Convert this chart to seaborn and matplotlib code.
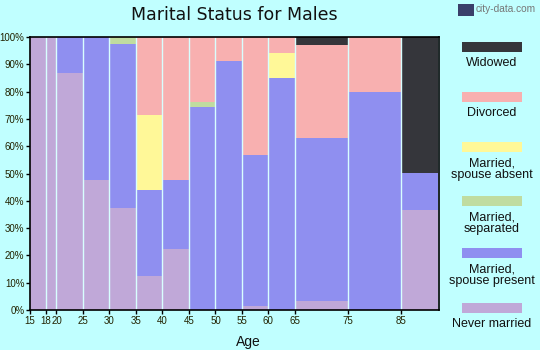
import matplotlib
matplotlib.use("Agg")
import matplotlib.pyplot as plt
from matplotlib.patches import Rectangle
import numpy as np
import pandas as pd
import seaborn as sns

# Age bracket edges (years)
age_edges = [15, 18, 20, 25, 30, 35, 40, 45, 50, 55, 60, 65, 75, 85, 92]
tick_ages = [15, 18, 20, 25, 30, 35, 40, 45, 50, 55, 60, 65, 75, 85]

# Share of males in each age bracket by marital status (%)
never_married   = [100, 100, 86.9, 47.6, 37.5, 12.5, 22.3, 0.0, 0.0, 1.6, 0.0, 3.3, 0.0, 36.6]
spouse_present  = [0, 0, 13.1, 52.4, 60.0, 31.5, 25.3, 74.4, 91.2, 55.2, 85.0, 59.8, 79.9, 13.7]
separated       = [0, 0, 0, 0, 2.5, 0, 0, 1.9, 0, 0, 0, 0, 0, 0]
spouse_absent   = [0, 0, 0, 0, 0, 27.4, 0, 0, 0, 0, 9.1, 0, 0, 0]
divorced        = [0, 0, 0, 0, 0, 28.6, 52.4, 23.7, 8.8, 43.2, 5.9, 34.0, 20.1, 0]
widowed         = [0, 0, 0, 0, 0, 0, 0, 0, 0, 0, 0, 2.9, 0, 49.7]

statuses = ["Never married", "Married,\nspouse present", "Married,\nseparated",
            "Married,\nspouse absent", "Divorced", "Widowed"]
colors = ["#c0a8d8", "#8f8ff0", "#c0dca0", "#fff898", "#f8b0b0", "#35363b"]
bg = "#c0ffff"

series = [never_married, spouse_present, separated, spouse_absent, divorced, widowed]
mids = [(a + b) / 2 for a, b in zip(age_edges[:-1], age_edges[1:])]
rows = []
for name, vals in zip(statuses, series):
    for m, v in zip(mids, vals):
        rows.append({"age": m, "status": name, "share": v})
df = pd.DataFrame(rows)

sns.set_style("white")
plt.rcParams["font.family"] = ["Liberation Sans", "DejaVu Sans"]

fig = plt.figure(figsize=(5.4, 3.5), dpi=100, facecolor=bg)
ax = fig.add_axes([30 / 540, 1 - 310 / 350, 409 / 540, 273 / 350])
ax.set_facecolor(bg)

sns.histplot(data=df, x="age", weights="share", hue="status",
             hue_order=statuses[::-1], palette=dict(zip(statuses, colors)),
             bins=age_edges, multiple="stack", stat="count",
             element="bars", alpha=1, linewidth=0,
             legend=False, ax=ax)

# thin light separators between age brackets
ax.vlines(age_edges[1:-1], 0, 100, color="#d8ffff", linewidth=1.0, zorder=5)

ax.set_xlim(15, 92.2)
ax.set_ylim(0, 100)
ax.set_yticks(range(0, 101, 10))
ax.set_yticklabels([f"{v}%" for v in range(0, 101, 10)])
ax.set_xticks(tick_ages)
ax.set_xticklabels([str(a) for a in tick_ages])
for lab in ax.get_xticklabels() + ax.get_yticklabels():
    lab.set_fontsize(7)
    lab.set_color("#222200")
ax.tick_params(axis="both", length=3, width=1, color="black", pad=1,
               direction="out", bottom=True, left=True)
ax.set_ylabel("")
ax.set_xlabel("")
for s in ax.spines.values():
    s.set_visible(True)
    s.set_color("black")
    s.set_linewidth(1.2)
    s.set_zorder(6)

fig.text(248 / 540, 1 - 342 / 350, "Age", ha="center", va="center",
         fontsize=10, color="#111111")
fig.text(234 / 540, 1 - 15 / 350, "Marital Status for Males", ha="center",
         va="center", fontsize=12.5, family="DejaVu Sans", color="#111111")

# site mark
fig.add_artist(Rectangle((458 / 540, 1 - 16 / 350), 16 / 540, 12 / 350,
                         transform=fig.transFigure, facecolor="#3a3f6a",
                         edgecolor="none"))
fig.text(476 / 540, 1 - 9 / 350, "city-data.com", ha="left", va="center",
         fontsize=7.3, color="#777777")

# legend: swatch with caption beneath
legend_items = [
    ("Widowed", colors[5], 47),
    ("Divorced", colors[4], 97),
    ("Married,\nspouse absent", colors[3], 147),
    ("Married,\nseparated", colors[2], 201),
    ("Married,\nspouse present", colors[1], 253),
    ("Never married", colors[0], 308),
]
for label, col, yc in legend_items:
    fig.add_artist(Rectangle((462 / 540, 1 - (yc + 5) / 350), 60 / 540, 10 / 350,
                             transform=fig.transFigure, facecolor=col,
                             edgecolor="none"))
    fig.text(492 / 540, 1 - (yc + 10) / 350, label, ha="center", va="top",
             fontsize=9, color="#111111", linespacing=1.0)

fig.savefig("out.png", dpi=100, facecolor=bg)
